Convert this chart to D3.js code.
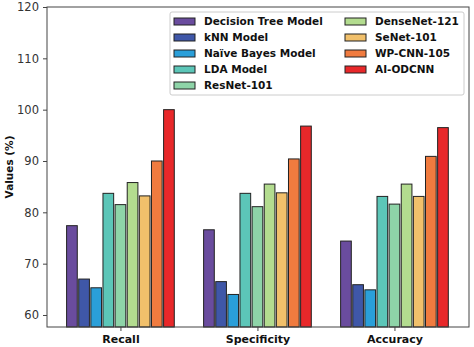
<!DOCTYPE html>
<html><head><meta charset="utf-8">
<script src="https://cdn.jsdelivr.net/npm/d3@7"></script>
<style>body{margin:0;background:#fff;}svg{display:block;}</style>
</head><body>
<script>
const categories = ["Recall", "Specificity", "Accuracy"];
const models = ["Decision Tree Model", "kNN Model", "Naïve Bayes Model", "LDA Model", "ResNet-101", "DenseNet-121", "SeNet-101", "WP-CNN-105", "AI-ODCNN"];
const colors = ["#6a4c9e", "#3f57a8", "#2a9fd9", "#5cc6b8", "#8ed4a8", "#b3dc8f", "#f1c06b", "#f07b3f", "#e8282a"];
const recall = [77.4, 67.0, 65.3, 83.7, 81.5, 85.8, 83.2, 90.0, 100.0];
const specificity = [76.6, 66.5, 64.0, 83.7, 81.1, 85.5, 83.8, 90.4, 96.8];
const accuracy = [74.4, 65.9, 64.9, 83.1, 81.6, 85.5, 83.1, 90.9, 96.5];
const yTicks = [60, 70, 80, 90, 100, 110, 120];
const series = [recall, specificity, accuracy];

(function () {
const W = 474, H = 347;
const svg = d3.select("body").append("svg").attr("width", W).attr("height", H);
const mL = 47, mR = 469, mT = 7, mB = 327;
const x = d3.scaleLinear().domain([-0.536, 2.544]).range([mL, mR]);
const y = d3.scaleLinear().domain([57.66, 120]).range([mB, mT]);
const slot = 0.0885, bw = 0.078;

const g = svg.append("g");
categories.forEach((c, ci) => {
  models.forEach((m, mi) => {
    const cx = ci + (mi - 4) * slot;
    const v = series[ci][mi];
    g.append("rect")
      .attr("x", x(cx - bw / 2))
      .attr("width", x(cx + bw / 2) - x(cx - bw / 2))
      .attr("y", y(v))
      .attr("height", y(57.66) - y(v))
      .attr("fill", colors[mi])
      .attr("stroke", "#222")
      .attr("stroke-width", 1);
  });
});

svg.append("rect").attr("x", mL).attr("y", mT).attr("width", mR - mL).attr("height", mB - mT)
  .attr("fill", "none").attr("stroke", "#444").attr("stroke-width", 1);

const ya = svg.append("g").attr("transform", `translate(${mL},0)`)
  .call(d3.axisLeft(y).tickValues(yTicks).tickSize(4).tickPadding(4));
ya.select(".domain").remove();
ya.selectAll("line").attr("stroke", "#444");
ya.selectAll("text").attr("font-family", "DejaVu Sans").attr("font-size", 11.5).attr("fill", "#333");

const xa = svg.append("g").attr("transform", `translate(0,${mB})`)
  .call(d3.axisBottom(x).tickValues([0, 1, 2]).tickFormat((d) => categories[d]).tickSize(4).tickPadding(4));
xa.select(".domain").remove();
xa.selectAll("line").attr("stroke", "#444");
xa.selectAll("text").attr("font-family", "DejaVu Sans").attr("font-weight", "bold").attr("font-size", 11).attr("fill", "#111");

svg.append("text").attr("transform", `translate(9,167) rotate(-90)`)
  .attr("text-anchor", "middle").attr("dy", "0.35em").attr("font-family", "DejaVu Sans").attr("font-weight", "bold")
  .attr("font-size", 10.5).attr("fill", "#111").text("Values (%)");

const lg = svg.append("g");
lg.append("rect").attr("x", 170).attr("y", 12).attr("width", 294).attr("height", 83).attr("rx", 2)
  .attr("fill", "#fff").attr("fill-opacity", 0.85).attr("stroke", "#ccc").attr("stroke-width", 1);
models.forEach((m, i) => {
  const col = i < 5 ? 0 : 1;
  const row = i < 5 ? i : i - 5;
  const px = col === 0 ? 174 : 345;
  const py = 21.5 + row * 16;
  lg.append("rect").attr("x", px).attr("y", py - 3.5).attr("width", 21).attr("height", 7)
    .attr("fill", colors[i]).attr("stroke", "#222").attr("stroke-width", 1);
  lg.append("text").attr("x", px + 30).attr("y", py).attr("dy", "0.35em")
    .attr("font-family", "DejaVu Sans").attr("font-weight", "bold").attr("font-size", 10.5)
    .attr("fill", "#111").text(m);
});
})();
</script>
</body></html>
